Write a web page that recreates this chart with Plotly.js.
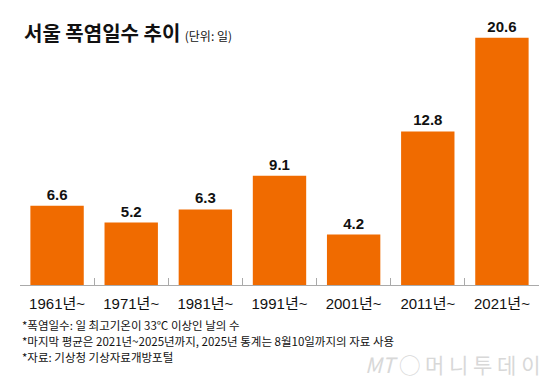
<!DOCTYPE html>
<html>
<head>
<meta charset="utf-8">
<script src="https://cdn.plot.ly/plotly-3.0.1.min.js"></script>
<style>html,body{margin:0;padding:0;background:#fff;}#chart{width:560px;height:384px;}</style>
</head>
<body>
<div id="chart"></div>
<script>
const categories = ['1961년~', '1971년~', '1981년~', '1991년~', '2001년~', '2011년~', '2021년~'];
const values = [6.6, 5.2, 6.3, 9.1, 4.2, 12.8, 20.6];
const titleText = '서울 폭염일수 추이';
const unitText = '(단위: 일)';
const notes = [
  '*폭염일수: 일 최고기온이 33℃ 이상인 날의 수',
  '*마지막 평균은 2021년~2025년까지, 2025년 통계는 8월10일까지의 자료 사용',
  '*자료: 기상청 기상자료개방포털'
];

const FONT = 'Liberation Sans, Arial, Noto Sans CJK KR, sans-serif';
const KFONT = 'Noto Sans CJK KR, Liberation Sans, sans-serif';

const trace = {
  type: 'bar',
  x: categories,
  y: values,
  marker: {color: '#F06B00'},
  texttemplate: '%{y:.1f}',
  textposition: 'outside',
  textfont: {family: FONT, size: 15, color: '#111', weight: 'bold'},
  cliponaxis: false,
  hoverinfo: 'skip'
};

const annotations = [
  {xref: 'paper', yref: 'paper', x: 0.004, y: 0.955, xanchor: 'left', yanchor: 'middle', showarrow: false,
   text: '<b>' + titleText + '</b> <span style="font-size:12px">' + unitText + '</span>',
   font: {family: KFONT, size: 20, color: '#111'}}
];
const noteY = [-0.1515, -0.2121, -0.2727];
notes.forEach((t, i) => annotations.push({
  xref: 'paper', yref: 'paper', x: 0, y: noteY[i], xanchor: 'left', yanchor: 'middle', showarrow: false,
  text: t, font: {family: KFONT, size: 11.5, color: '#111'}
}));
annotations.push({
  xref: 'paper', yref: 'paper', x: 1.005, y: -0.3, xanchor: 'right', yanchor: 'middle', showarrow: false,
  text: '<i>MT</i> ◯ 머 니 투 데 이', font: {family: KFONT, size: 21, color: '#d8d8d8'}
});

const layout = {
  width: 560, height: 384,
  margin: {l: 20, r: 21, t: 21, b: 99},
  paper_bgcolor: '#fff', plot_bgcolor: '#fff',
  showlegend: false,
  bargap: 0.28,
  xaxis: {
    type: 'category',
    tickson: 'boundaries',
    ticks: 'inside', ticklen: 7, tickcolor: '#aaa', tickwidth: 1,
    showline: true, linecolor: '#aaa', linewidth: 1,
    showgrid: false, zeroline: false,
    ticklabelstandoff: 5,
    tickfont: {family: FONT, size: 15, color: '#111'},
    fixedrange: true
  },
  yaxis: {
    range: [0, 22], visible: false, showgrid: false, zeroline: false, fixedrange: true
  },
  annotations: annotations
};

Plotly.newPlot('chart', [trace], layout, {displayModeBar: false, staticPlot: true});
</script>
</body>
</html>
